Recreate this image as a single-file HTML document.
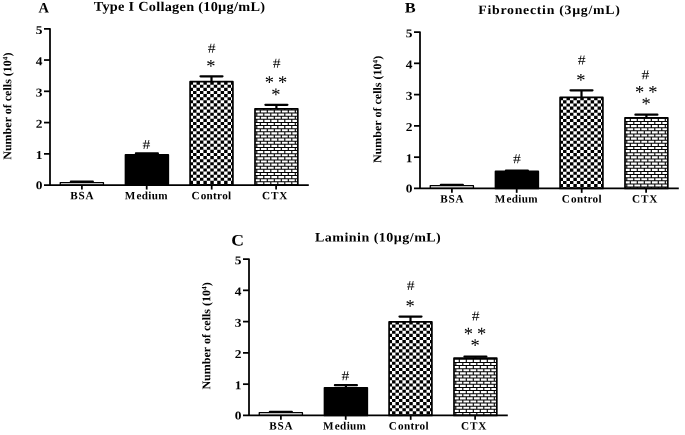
<!DOCTYPE html>
<html><head><meta charset="utf-8"><title>Figure</title>
<style>
html,body{margin:0;padding:0;background:#fff;}
svg{display:block;}
text{font-family:"Liberation Serif","DejaVu Serif",serif;fill:#000;}
.b{font-weight:bold;}
.ax{stroke:#000;stroke-width:1.75;fill:none;stroke-linecap:butt;}
.bar{stroke:#000;stroke-width:1.7;stroke-linejoin:round;}
.eb{stroke:#000;fill:none;}
</style></head><body>
<svg width="685" height="435" viewBox="0 0 685 435">
<rect width="685" height="435" fill="#fff"/>

<g>
<text class="b" transform="translate(38.60,12.60) rotate(0.03)" font-size="14.5" text-anchor="start">A</text>
<text class="b" transform="translate(93.70,10.85) rotate(0.03) scale(1.06,1)" font-size="13.5" text-anchor="start" textLength="161.60" lengthAdjust="spacing">Type I Collagen (10µg/mL)</text>
<text class="b" font-size="11.7" textLength="107.3" lengthAdjust="spacingAndGlyphs" transform="translate(11.25,159.8) rotate(-90.03)">Number of cells (10<tspan font-size="7" dy="-3.8">4</tspan><tspan dy="3.8">)</tspan></text>
<path class="eb" stroke-width="2.2" d="M81.85 182.6V181.6"/>
<path class="eb" stroke-width="2.2" stroke-linecap="round" d="M70.85 181.6H92.85"/>
<g transform="translate(60.25,182.55)"><rect class="bar" style="stroke-width:1.3" width="43.20" height="2.60" fill="#fff"/></g>
<path class="eb" stroke-width="2.2" d="M146.90 154.4V153.4"/>
<path class="eb" stroke-width="2.2" stroke-linecap="round" d="M135.90 153.4H157.90"/>
<g transform="translate(125.50,154.75)"><rect class="bar" width="42.80" height="30.40" fill="#000"/></g>
<path class="eb" stroke-width="2.2" d="M211.50 81.3V76.3"/>
<path class="eb" stroke-width="2.2" stroke-linecap="round" d="M200.50 76.3H222.50"/>
<g transform="translate(190.10,81.65)"><rect width="42.80" height="103.50" fill="#fff"/><path fill="#000" d="M0 0H2.95V3.1H0ZM6.4 0H9.85V3.1H6.4ZM13.3 0H16.75V3.1H13.3ZM20.2 0H23.65V3.1H20.2ZM27.1 0H30.55V3.1H27.1ZM34 0H37.45V3.1H34ZM40.9 0H42.8V3.1H40.9ZM2.95 3.1H6.4V6.2H2.95ZM9.85 3.1H13.3V6.2H9.85ZM16.75 3.1H20.2V6.2H16.75ZM23.65 3.1H27.1V6.2H23.65ZM30.55 3.1H34V6.2H30.55ZM37.45 3.1H40.9V6.2H37.45ZM0 6.2H2.95V9.3H0ZM6.4 6.2H9.85V9.3H6.4ZM13.3 6.2H16.75V9.3H13.3ZM20.2 6.2H23.65V9.3H20.2ZM27.1 6.2H30.55V9.3H27.1ZM34 6.2H37.45V9.3H34ZM40.9 6.2H42.8V9.3H40.9ZM2.95 9.3H6.4V12.4H2.95ZM9.85 9.3H13.3V12.4H9.85ZM16.75 9.3H20.2V12.4H16.75ZM23.65 9.3H27.1V12.4H23.65ZM30.55 9.3H34V12.4H30.55ZM37.45 9.3H40.9V12.4H37.45ZM0 12.4H2.95V15.5H0ZM6.4 12.4H9.85V15.5H6.4ZM13.3 12.4H16.75V15.5H13.3ZM20.2 12.4H23.65V15.5H20.2ZM27.1 12.4H30.55V15.5H27.1ZM34 12.4H37.45V15.5H34ZM40.9 12.4H42.8V15.5H40.9ZM2.95 15.5H6.4V18.6H2.95ZM9.85 15.5H13.3V18.6H9.85ZM16.75 15.5H20.2V18.6H16.75ZM23.65 15.5H27.1V18.6H23.65ZM30.55 15.5H34V18.6H30.55ZM37.45 15.5H40.9V18.6H37.45ZM0 18.6H2.95V21.7H0ZM6.4 18.6H9.85V21.7H6.4ZM13.3 18.6H16.75V21.7H13.3ZM20.2 18.6H23.65V21.7H20.2ZM27.1 18.6H30.55V21.7H27.1ZM34 18.6H37.45V21.7H34ZM40.9 18.6H42.8V21.7H40.9ZM2.95 21.7H6.4V24.8H2.95ZM9.85 21.7H13.3V24.8H9.85ZM16.75 21.7H20.2V24.8H16.75ZM23.65 21.7H27.1V24.8H23.65ZM30.55 21.7H34V24.8H30.55ZM37.45 21.7H40.9V24.8H37.45ZM0 24.8H2.95V27.9H0ZM6.4 24.8H9.85V27.9H6.4ZM13.3 24.8H16.75V27.9H13.3ZM20.2 24.8H23.65V27.9H20.2ZM27.1 24.8H30.55V27.9H27.1ZM34 24.8H37.45V27.9H34ZM40.9 24.8H42.8V27.9H40.9ZM2.95 27.9H6.4V31H2.95ZM9.85 27.9H13.3V31H9.85ZM16.75 27.9H20.2V31H16.75ZM23.65 27.9H27.1V31H23.65ZM30.55 27.9H34V31H30.55ZM37.45 27.9H40.9V31H37.45ZM0 31H2.95V34.1H0ZM6.4 31H9.85V34.1H6.4ZM13.3 31H16.75V34.1H13.3ZM20.2 31H23.65V34.1H20.2ZM27.1 31H30.55V34.1H27.1ZM34 31H37.45V34.1H34ZM40.9 31H42.8V34.1H40.9ZM2.95 34.1H6.4V37.2H2.95ZM9.85 34.1H13.3V37.2H9.85ZM16.75 34.1H20.2V37.2H16.75ZM23.65 34.1H27.1V37.2H23.65ZM30.55 34.1H34V37.2H30.55ZM37.45 34.1H40.9V37.2H37.45ZM0 37.2H2.95V40.3H0ZM6.4 37.2H9.85V40.3H6.4ZM13.3 37.2H16.75V40.3H13.3ZM20.2 37.2H23.65V40.3H20.2ZM27.1 37.2H30.55V40.3H27.1ZM34 37.2H37.45V40.3H34ZM40.9 37.2H42.8V40.3H40.9ZM2.95 40.3H6.4V43.4H2.95ZM9.85 40.3H13.3V43.4H9.85ZM16.75 40.3H20.2V43.4H16.75ZM23.65 40.3H27.1V43.4H23.65ZM30.55 40.3H34V43.4H30.55ZM37.45 40.3H40.9V43.4H37.45ZM0 43.4H2.95V46.5H0ZM6.4 43.4H9.85V46.5H6.4ZM13.3 43.4H16.75V46.5H13.3ZM20.2 43.4H23.65V46.5H20.2ZM27.1 43.4H30.55V46.5H27.1ZM34 43.4H37.45V46.5H34ZM40.9 43.4H42.8V46.5H40.9ZM2.95 46.5H6.4V49.6H2.95ZM9.85 46.5H13.3V49.6H9.85ZM16.75 46.5H20.2V49.6H16.75ZM23.65 46.5H27.1V49.6H23.65ZM30.55 46.5H34V49.6H30.55ZM37.45 46.5H40.9V49.6H37.45ZM0 49.6H2.95V52.7H0ZM6.4 49.6H9.85V52.7H6.4ZM13.3 49.6H16.75V52.7H13.3ZM20.2 49.6H23.65V52.7H20.2ZM27.1 49.6H30.55V52.7H27.1ZM34 49.6H37.45V52.7H34ZM40.9 49.6H42.8V52.7H40.9ZM2.95 52.7H6.4V55.8H2.95ZM9.85 52.7H13.3V55.8H9.85ZM16.75 52.7H20.2V55.8H16.75ZM23.65 52.7H27.1V55.8H23.65ZM30.55 52.7H34V55.8H30.55ZM37.45 52.7H40.9V55.8H37.45ZM0 55.8H2.95V58.9H0ZM6.4 55.8H9.85V58.9H6.4ZM13.3 55.8H16.75V58.9H13.3ZM20.2 55.8H23.65V58.9H20.2ZM27.1 55.8H30.55V58.9H27.1ZM34 55.8H37.45V58.9H34ZM40.9 55.8H42.8V58.9H40.9ZM2.95 58.9H6.4V62H2.95ZM9.85 58.9H13.3V62H9.85ZM16.75 58.9H20.2V62H16.75ZM23.65 58.9H27.1V62H23.65ZM30.55 58.9H34V62H30.55ZM37.45 58.9H40.9V62H37.45ZM0 62H2.95V65.1H0ZM6.4 62H9.85V65.1H6.4ZM13.3 62H16.75V65.1H13.3ZM20.2 62H23.65V65.1H20.2ZM27.1 62H30.55V65.1H27.1ZM34 62H37.45V65.1H34ZM40.9 62H42.8V65.1H40.9ZM2.95 65.1H6.4V68.2H2.95ZM9.85 65.1H13.3V68.2H9.85ZM16.75 65.1H20.2V68.2H16.75ZM23.65 65.1H27.1V68.2H23.65ZM30.55 65.1H34V68.2H30.55ZM37.45 65.1H40.9V68.2H37.45ZM0 68.2H2.95V71.3H0ZM6.4 68.2H9.85V71.3H6.4ZM13.3 68.2H16.75V71.3H13.3ZM20.2 68.2H23.65V71.3H20.2ZM27.1 68.2H30.55V71.3H27.1ZM34 68.2H37.45V71.3H34ZM40.9 68.2H42.8V71.3H40.9ZM2.95 71.3H6.4V74.4H2.95ZM9.85 71.3H13.3V74.4H9.85ZM16.75 71.3H20.2V74.4H16.75ZM23.65 71.3H27.1V74.4H23.65ZM30.55 71.3H34V74.4H30.55ZM37.45 71.3H40.9V74.4H37.45ZM0 74.4H2.95V77.5H0ZM6.4 74.4H9.85V77.5H6.4ZM13.3 74.4H16.75V77.5H13.3ZM20.2 74.4H23.65V77.5H20.2ZM27.1 74.4H30.55V77.5H27.1ZM34 74.4H37.45V77.5H34ZM40.9 74.4H42.8V77.5H40.9ZM2.95 77.5H6.4V80.6H2.95ZM9.85 77.5H13.3V80.6H9.85ZM16.75 77.5H20.2V80.6H16.75ZM23.65 77.5H27.1V80.6H23.65ZM30.55 77.5H34V80.6H30.55ZM37.45 77.5H40.9V80.6H37.45ZM0 80.6H2.95V83.7H0ZM6.4 80.6H9.85V83.7H6.4ZM13.3 80.6H16.75V83.7H13.3ZM20.2 80.6H23.65V83.7H20.2ZM27.1 80.6H30.55V83.7H27.1ZM34 80.6H37.45V83.7H34ZM40.9 80.6H42.8V83.7H40.9ZM2.95 83.7H6.4V86.8H2.95ZM9.85 83.7H13.3V86.8H9.85ZM16.75 83.7H20.2V86.8H16.75ZM23.65 83.7H27.1V86.8H23.65ZM30.55 83.7H34V86.8H30.55ZM37.45 83.7H40.9V86.8H37.45ZM0 86.8H2.95V89.9H0ZM6.4 86.8H9.85V89.9H6.4ZM13.3 86.8H16.75V89.9H13.3ZM20.2 86.8H23.65V89.9H20.2ZM27.1 86.8H30.55V89.9H27.1ZM34 86.8H37.45V89.9H34ZM40.9 86.8H42.8V89.9H40.9ZM2.95 89.9H6.4V93H2.95ZM9.85 89.9H13.3V93H9.85ZM16.75 89.9H20.2V93H16.75ZM23.65 89.9H27.1V93H23.65ZM30.55 89.9H34V93H30.55ZM37.45 89.9H40.9V93H37.45ZM0 93H2.95V96.1H0ZM6.4 93H9.85V96.1H6.4ZM13.3 93H16.75V96.1H13.3ZM20.2 93H23.65V96.1H20.2ZM27.1 93H30.55V96.1H27.1ZM34 93H37.45V96.1H34ZM40.9 93H42.8V96.1H40.9ZM2.95 96.1H6.4V99.2H2.95ZM9.85 96.1H13.3V99.2H9.85ZM16.75 96.1H20.2V99.2H16.75ZM23.65 96.1H27.1V99.2H23.65ZM30.55 96.1H34V99.2H30.55ZM37.45 96.1H40.9V99.2H37.45ZM0 99.2H2.95V102.3H0ZM6.4 99.2H9.85V102.3H6.4ZM13.3 99.2H16.75V102.3H13.3ZM20.2 99.2H23.65V102.3H20.2ZM27.1 99.2H30.55V102.3H27.1ZM34 99.2H37.45V102.3H34ZM40.9 99.2H42.8V102.3H40.9ZM2.95 102.3H6.4V103.5H2.95ZM9.85 102.3H13.3V103.5H9.85ZM16.75 102.3H20.2V103.5H16.75ZM23.65 102.3H27.1V103.5H23.65ZM30.55 102.3H34V103.5H30.55ZM37.45 102.3H40.9V103.5H37.45Z"/><rect class="bar" width="42.80" height="103.50" fill="none"/></g>
<path class="eb" stroke-width="2.2" d="M276.40 108.5V104.8"/>
<path class="eb" stroke-width="2.2" stroke-linecap="round" d="M265.40 104.8H287.40"/>
<g transform="translate(255.00,108.85)"><rect width="42.80" height="76.30" fill="#fff"/><path fill="#000" d="M1.25 0H2.35V0.55H1.25ZM8.25 0H9.35V0.55H8.25ZM15.25 0H16.35V0.55H15.25ZM22.25 0H23.35V0.55H22.25ZM29.25 0H30.35V0.55H29.25ZM36.25 0H37.35V0.55H36.25ZM0 0.55H42.8V1.55H0ZM4.75 0.55H5.85V3.67H4.75ZM11.75 0.55H12.85V3.67H11.75ZM18.75 0.55H19.85V3.67H18.75ZM25.75 0.55H26.85V3.67H25.75ZM32.75 0.55H33.85V3.67H32.75ZM39.75 0.55H40.85V3.67H39.75ZM0 3.67H42.8V4.67H0ZM1.25 3.67H2.35V6.8H1.25ZM8.25 3.67H9.35V6.8H8.25ZM15.25 3.67H16.35V6.8H15.25ZM22.25 3.67H23.35V6.8H22.25ZM29.25 3.67H30.35V6.8H29.25ZM36.25 3.67H37.35V6.8H36.25ZM0 6.8H42.8V7.8H0ZM4.75 6.8H5.85V9.93H4.75ZM11.75 6.8H12.85V9.93H11.75ZM18.75 6.8H19.85V9.93H18.75ZM25.75 6.8H26.85V9.93H25.75ZM32.75 6.8H33.85V9.93H32.75ZM39.75 6.8H40.85V9.93H39.75ZM0 9.93H42.8V10.93H0ZM1.25 9.93H2.35V13.05H1.25ZM8.25 9.93H9.35V13.05H8.25ZM15.25 9.93H16.35V13.05H15.25ZM22.25 9.93H23.35V13.05H22.25ZM29.25 9.93H30.35V13.05H29.25ZM36.25 9.93H37.35V13.05H36.25ZM0 13.05H42.8V14.05H0ZM4.75 13.05H5.85V16.18H4.75ZM11.75 13.05H12.85V16.18H11.75ZM18.75 13.05H19.85V16.18H18.75ZM25.75 13.05H26.85V16.18H25.75ZM32.75 13.05H33.85V16.18H32.75ZM39.75 13.05H40.85V16.18H39.75ZM0 16.18H42.8V17.18H0ZM1.25 16.18H2.35V19.3H1.25ZM8.25 16.18H9.35V19.3H8.25ZM15.25 16.18H16.35V19.3H15.25ZM22.25 16.18H23.35V19.3H22.25ZM29.25 16.18H30.35V19.3H29.25ZM36.25 16.18H37.35V19.3H36.25ZM0 19.3H42.8V20.3H0ZM4.75 19.3H5.85V22.43H4.75ZM11.75 19.3H12.85V22.43H11.75ZM18.75 19.3H19.85V22.43H18.75ZM25.75 19.3H26.85V22.43H25.75ZM32.75 19.3H33.85V22.43H32.75ZM39.75 19.3H40.85V22.43H39.75ZM0 22.43H42.8V23.43H0ZM1.25 22.43H2.35V25.55H1.25ZM8.25 22.43H9.35V25.55H8.25ZM15.25 22.43H16.35V25.55H15.25ZM22.25 22.43H23.35V25.55H22.25ZM29.25 22.43H30.35V25.55H29.25ZM36.25 22.43H37.35V25.55H36.25ZM0 25.55H42.8V26.55H0ZM4.75 25.55H5.85V28.68H4.75ZM11.75 25.55H12.85V28.68H11.75ZM18.75 25.55H19.85V28.68H18.75ZM25.75 25.55H26.85V28.68H25.75ZM32.75 25.55H33.85V28.68H32.75ZM39.75 25.55H40.85V28.68H39.75ZM0 28.68H42.8V29.68H0ZM1.25 28.68H2.35V31.8H1.25ZM8.25 28.68H9.35V31.8H8.25ZM15.25 28.68H16.35V31.8H15.25ZM22.25 28.68H23.35V31.8H22.25ZM29.25 28.68H30.35V31.8H29.25ZM36.25 28.68H37.35V31.8H36.25ZM0 31.8H42.8V32.8H0ZM4.75 31.8H5.85V34.92H4.75ZM11.75 31.8H12.85V34.92H11.75ZM18.75 31.8H19.85V34.92H18.75ZM25.75 31.8H26.85V34.92H25.75ZM32.75 31.8H33.85V34.92H32.75ZM39.75 31.8H40.85V34.92H39.75ZM0 34.92H42.8V35.92H0ZM1.25 34.92H2.35V38.05H1.25ZM8.25 34.92H9.35V38.05H8.25ZM15.25 34.92H16.35V38.05H15.25ZM22.25 34.92H23.35V38.05H22.25ZM29.25 34.92H30.35V38.05H29.25ZM36.25 34.92H37.35V38.05H36.25ZM0 38.05H42.8V39.05H0ZM4.75 38.05H5.85V41.17H4.75ZM11.75 38.05H12.85V41.17H11.75ZM18.75 38.05H19.85V41.17H18.75ZM25.75 38.05H26.85V41.17H25.75ZM32.75 38.05H33.85V41.17H32.75ZM39.75 38.05H40.85V41.17H39.75ZM0 41.17H42.8V42.17H0ZM1.25 41.17H2.35V44.3H1.25ZM8.25 41.17H9.35V44.3H8.25ZM15.25 41.17H16.35V44.3H15.25ZM22.25 41.17H23.35V44.3H22.25ZM29.25 41.17H30.35V44.3H29.25ZM36.25 41.17H37.35V44.3H36.25ZM0 44.3H42.8V45.3H0ZM4.75 44.3H5.85V47.42H4.75ZM11.75 44.3H12.85V47.42H11.75ZM18.75 44.3H19.85V47.42H18.75ZM25.75 44.3H26.85V47.42H25.75ZM32.75 44.3H33.85V47.42H32.75ZM39.75 44.3H40.85V47.42H39.75ZM0 47.42H42.8V48.42H0ZM1.25 47.42H2.35V50.55H1.25ZM8.25 47.42H9.35V50.55H8.25ZM15.25 47.42H16.35V50.55H15.25ZM22.25 47.42H23.35V50.55H22.25ZM29.25 47.42H30.35V50.55H29.25ZM36.25 47.42H37.35V50.55H36.25ZM0 50.55H42.8V51.55H0ZM4.75 50.55H5.85V53.67H4.75ZM11.75 50.55H12.85V53.67H11.75ZM18.75 50.55H19.85V53.67H18.75ZM25.75 50.55H26.85V53.67H25.75ZM32.75 50.55H33.85V53.67H32.75ZM39.75 50.55H40.85V53.67H39.75ZM0 53.67H42.8V54.67H0ZM1.25 53.67H2.35V56.8H1.25ZM8.25 53.67H9.35V56.8H8.25ZM15.25 53.67H16.35V56.8H15.25ZM22.25 53.67H23.35V56.8H22.25ZM29.25 53.67H30.35V56.8H29.25ZM36.25 53.67H37.35V56.8H36.25ZM0 56.8H42.8V57.8H0ZM4.75 56.8H5.85V59.92H4.75ZM11.75 56.8H12.85V59.92H11.75ZM18.75 56.8H19.85V59.92H18.75ZM25.75 56.8H26.85V59.92H25.75ZM32.75 56.8H33.85V59.92H32.75ZM39.75 56.8H40.85V59.92H39.75ZM0 59.92H42.8V60.92H0ZM1.25 59.92H2.35V63.05H1.25ZM8.25 59.92H9.35V63.05H8.25ZM15.25 59.92H16.35V63.05H15.25ZM22.25 59.92H23.35V63.05H22.25ZM29.25 59.92H30.35V63.05H29.25ZM36.25 59.92H37.35V63.05H36.25ZM0 63.05H42.8V64.05H0ZM4.75 63.05H5.85V66.17H4.75ZM11.75 63.05H12.85V66.17H11.75ZM18.75 63.05H19.85V66.17H18.75ZM25.75 63.05H26.85V66.17H25.75ZM32.75 63.05H33.85V66.17H32.75ZM39.75 63.05H40.85V66.17H39.75ZM0 66.17H42.8V67.17H0ZM1.25 66.17H2.35V69.3H1.25ZM8.25 66.17H9.35V69.3H8.25ZM15.25 66.17H16.35V69.3H15.25ZM22.25 66.17H23.35V69.3H22.25ZM29.25 66.17H30.35V69.3H29.25ZM36.25 66.17H37.35V69.3H36.25ZM0 69.3H42.8V70.3H0ZM4.75 69.3H5.85V72.42H4.75ZM11.75 69.3H12.85V72.42H11.75ZM18.75 69.3H19.85V72.42H18.75ZM25.75 69.3H26.85V72.42H25.75ZM32.75 69.3H33.85V72.42H32.75ZM39.75 69.3H40.85V72.42H39.75ZM0 72.42H42.8V73.42H0ZM1.25 72.42H2.35V75.55H1.25ZM8.25 72.42H9.35V75.55H8.25ZM15.25 72.42H16.35V75.55H15.25ZM22.25 72.42H23.35V75.55H22.25ZM29.25 72.42H30.35V75.55H29.25ZM36.25 72.42H37.35V75.55H36.25ZM0 75.55H42.8V76.3H0ZM4.75 75.55H5.85V76.3H4.75ZM11.75 75.55H12.85V76.3H11.75ZM18.75 75.55H19.85V76.3H18.75ZM25.75 75.55H26.85V76.3H25.75ZM32.75 75.55H33.85V76.3H32.75ZM39.75 75.55H40.85V76.3H39.75Z"/><rect class="bar" width="42.80" height="76.30" fill="none"/></g>
<text transform="translate(146.50,149.02) rotate(0.03) scale(1.15,1)" font-size="13.6" text-anchor="middle">#</text>
<text transform="translate(210.90,72.05) rotate(0.03)" font-size="18.5" text-anchor="middle">*</text>
<text transform="translate(211.70,52.82) rotate(0.03) scale(1.15,1)" font-size="13.6" text-anchor="middle">#</text>
<text transform="translate(275.90,100.40) rotate(0.03)" font-size="18.5" text-anchor="middle">*</text>
<text transform="translate(269.35,88.35) rotate(0.03)" font-size="18.5" text-anchor="middle">*</text>
<text transform="translate(282.60,88.35) rotate(0.03)" font-size="18.5" text-anchor="middle">*</text>
<text transform="translate(276.65,67.67) rotate(0.03) scale(1.15,1)" font-size="13.6" text-anchor="middle">#</text>
<path class="ax" stroke-linejoin="round" d="M44 28.75H50V185.15"/>
<path class="ax" d="M44 185.15H308.8"/>
<text class="b" transform="translate(42.50,189.25) rotate(0.03) scale(1.12,1)" font-size="12" text-anchor="end">0</text>
<path class="ax" d="M44 153.87H50"/>
<text class="b" transform="translate(42.50,159.07) rotate(0.03) scale(1.12,1)" font-size="12" text-anchor="end">1</text>
<path class="ax" d="M44 122.59H50"/>
<text class="b" transform="translate(42.50,127.79) rotate(0.03) scale(1.12,1)" font-size="12" text-anchor="end">2</text>
<path class="ax" d="M44 91.31H50"/>
<text class="b" transform="translate(42.50,96.51) rotate(0.03) scale(1.12,1)" font-size="12" text-anchor="end">3</text>
<path class="ax" d="M44 60.03H50"/>
<text class="b" transform="translate(42.50,65.23) rotate(0.03) scale(1.12,1)" font-size="12" text-anchor="end">4</text>
<text class="b" transform="translate(42.50,33.95) rotate(0.03) scale(1.12,1)" font-size="12" text-anchor="end">5</text>
<path class="ax" d="M81.90 185.15V189.55"/>
<text class="b" transform="translate(70.30,199.30) rotate(0.03)" font-size="11.2" text-anchor="start" letter-spacing="0.7">B<tspan dx="0">SA</tspan></text>
<path class="ax" d="M146.70 185.15V189.55"/>
<text class="b" transform="translate(124.70,199.30) rotate(0.03)" font-size="11.2" text-anchor="start" letter-spacing="0.3">M<tspan dx="0.9">edium</tspan></text>
<path class="ax" d="M211.70 185.15V189.55"/>
<text class="b" transform="translate(191.40,199.30) rotate(0.03)" font-size="11.2" text-anchor="start" letter-spacing="0.3">C<tspan dx="0.9">ontrol</tspan></text>
<path class="ax" d="M276.10 185.15V189.55"/>
<text class="b" transform="translate(262.00,199.30) rotate(0.03)" font-size="11.2" text-anchor="start" letter-spacing="0.8">C<tspan dx="0">TX</tspan></text>
</g>
<g>
<text class="b" transform="translate(404.80,12.50) rotate(0.03) scale(1.13,1)" font-size="14.5" text-anchor="start">B</text>
<text class="b" transform="translate(478.30,13.90) rotate(0.03) scale(1.08,1)" font-size="12.8" text-anchor="start" textLength="131.02" lengthAdjust="spacing">Fibronectin (3µg/mL)</text>
<text class="b" font-size="11.7" textLength="107.3" lengthAdjust="spacingAndGlyphs" transform="translate(381.25,163.1) rotate(-90.03)">Number of cells (10<tspan font-size="7" dy="-3.8">4</tspan><tspan dy="3.8">)</tspan></text>
<path class="eb" stroke-width="2.2" d="M451.85 185.7V184.8"/>
<path class="eb" stroke-width="2.2" stroke-linecap="round" d="M440.85 184.8H462.85"/>
<g transform="translate(430.25,185.70)"><rect class="bar" style="stroke-width:1.3" width="43.20" height="2.75" fill="#fff"/></g>
<path class="eb" stroke-width="2.2" d="M516.90 171.1V170.7"/>
<path class="eb" stroke-width="2.2" stroke-linecap="round" d="M505.90 170.7H527.90"/>
<g transform="translate(495.50,171.45)"><rect class="bar" width="42.80" height="17.00" fill="#000"/></g>
<path class="eb" stroke-width="2.2" d="M581.50 97.1V90.3"/>
<path class="eb" stroke-width="2.2" stroke-linecap="round" d="M570.50 90.3H592.50"/>
<g transform="translate(560.10,97.45)"><rect width="42.80" height="91.00" fill="#fff"/><path fill="#000" d="M0 0H2.95V2.9H0ZM6.4 0H9.85V2.9H6.4ZM13.3 0H16.75V2.9H13.3ZM20.2 0H23.65V2.9H20.2ZM27.1 0H30.55V2.9H27.1ZM34 0H37.45V2.9H34ZM40.9 0H42.8V2.9H40.9ZM2.95 2.9H6.4V6H2.95ZM9.85 2.9H13.3V6H9.85ZM16.75 2.9H20.2V6H16.75ZM23.65 2.9H27.1V6H23.65ZM30.55 2.9H34V6H30.55ZM37.45 2.9H40.9V6H37.45ZM0 6H2.95V9.1H0ZM6.4 6H9.85V9.1H6.4ZM13.3 6H16.75V9.1H13.3ZM20.2 6H23.65V9.1H20.2ZM27.1 6H30.55V9.1H27.1ZM34 6H37.45V9.1H34ZM40.9 6H42.8V9.1H40.9ZM2.95 9.1H6.4V12.2H2.95ZM9.85 9.1H13.3V12.2H9.85ZM16.75 9.1H20.2V12.2H16.75ZM23.65 9.1H27.1V12.2H23.65ZM30.55 9.1H34V12.2H30.55ZM37.45 9.1H40.9V12.2H37.45ZM0 12.2H2.95V15.3H0ZM6.4 12.2H9.85V15.3H6.4ZM13.3 12.2H16.75V15.3H13.3ZM20.2 12.2H23.65V15.3H20.2ZM27.1 12.2H30.55V15.3H27.1ZM34 12.2H37.45V15.3H34ZM40.9 12.2H42.8V15.3H40.9ZM2.95 15.3H6.4V18.4H2.95ZM9.85 15.3H13.3V18.4H9.85ZM16.75 15.3H20.2V18.4H16.75ZM23.65 15.3H27.1V18.4H23.65ZM30.55 15.3H34V18.4H30.55ZM37.45 15.3H40.9V18.4H37.45ZM0 18.4H2.95V21.5H0ZM6.4 18.4H9.85V21.5H6.4ZM13.3 18.4H16.75V21.5H13.3ZM20.2 18.4H23.65V21.5H20.2ZM27.1 18.4H30.55V21.5H27.1ZM34 18.4H37.45V21.5H34ZM40.9 18.4H42.8V21.5H40.9ZM2.95 21.5H6.4V24.6H2.95ZM9.85 21.5H13.3V24.6H9.85ZM16.75 21.5H20.2V24.6H16.75ZM23.65 21.5H27.1V24.6H23.65ZM30.55 21.5H34V24.6H30.55ZM37.45 21.5H40.9V24.6H37.45ZM0 24.6H2.95V27.7H0ZM6.4 24.6H9.85V27.7H6.4ZM13.3 24.6H16.75V27.7H13.3ZM20.2 24.6H23.65V27.7H20.2ZM27.1 24.6H30.55V27.7H27.1ZM34 24.6H37.45V27.7H34ZM40.9 24.6H42.8V27.7H40.9ZM2.95 27.7H6.4V30.8H2.95ZM9.85 27.7H13.3V30.8H9.85ZM16.75 27.7H20.2V30.8H16.75ZM23.65 27.7H27.1V30.8H23.65ZM30.55 27.7H34V30.8H30.55ZM37.45 27.7H40.9V30.8H37.45ZM0 30.8H2.95V33.9H0ZM6.4 30.8H9.85V33.9H6.4ZM13.3 30.8H16.75V33.9H13.3ZM20.2 30.8H23.65V33.9H20.2ZM27.1 30.8H30.55V33.9H27.1ZM34 30.8H37.45V33.9H34ZM40.9 30.8H42.8V33.9H40.9ZM2.95 33.9H6.4V37H2.95ZM9.85 33.9H13.3V37H9.85ZM16.75 33.9H20.2V37H16.75ZM23.65 33.9H27.1V37H23.65ZM30.55 33.9H34V37H30.55ZM37.45 33.9H40.9V37H37.45ZM0 37H2.95V40.1H0ZM6.4 37H9.85V40.1H6.4ZM13.3 37H16.75V40.1H13.3ZM20.2 37H23.65V40.1H20.2ZM27.1 37H30.55V40.1H27.1ZM34 37H37.45V40.1H34ZM40.9 37H42.8V40.1H40.9ZM2.95 40.1H6.4V43.2H2.95ZM9.85 40.1H13.3V43.2H9.85ZM16.75 40.1H20.2V43.2H16.75ZM23.65 40.1H27.1V43.2H23.65ZM30.55 40.1H34V43.2H30.55ZM37.45 40.1H40.9V43.2H37.45ZM0 43.2H2.95V46.3H0ZM6.4 43.2H9.85V46.3H6.4ZM13.3 43.2H16.75V46.3H13.3ZM20.2 43.2H23.65V46.3H20.2ZM27.1 43.2H30.55V46.3H27.1ZM34 43.2H37.45V46.3H34ZM40.9 43.2H42.8V46.3H40.9ZM2.95 46.3H6.4V49.4H2.95ZM9.85 46.3H13.3V49.4H9.85ZM16.75 46.3H20.2V49.4H16.75ZM23.65 46.3H27.1V49.4H23.65ZM30.55 46.3H34V49.4H30.55ZM37.45 46.3H40.9V49.4H37.45ZM0 49.4H2.95V52.5H0ZM6.4 49.4H9.85V52.5H6.4ZM13.3 49.4H16.75V52.5H13.3ZM20.2 49.4H23.65V52.5H20.2ZM27.1 49.4H30.55V52.5H27.1ZM34 49.4H37.45V52.5H34ZM40.9 49.4H42.8V52.5H40.9ZM2.95 52.5H6.4V55.6H2.95ZM9.85 52.5H13.3V55.6H9.85ZM16.75 52.5H20.2V55.6H16.75ZM23.65 52.5H27.1V55.6H23.65ZM30.55 52.5H34V55.6H30.55ZM37.45 52.5H40.9V55.6H37.45ZM0 55.6H2.95V58.7H0ZM6.4 55.6H9.85V58.7H6.4ZM13.3 55.6H16.75V58.7H13.3ZM20.2 55.6H23.65V58.7H20.2ZM27.1 55.6H30.55V58.7H27.1ZM34 55.6H37.45V58.7H34ZM40.9 55.6H42.8V58.7H40.9ZM2.95 58.7H6.4V61.8H2.95ZM9.85 58.7H13.3V61.8H9.85ZM16.75 58.7H20.2V61.8H16.75ZM23.65 58.7H27.1V61.8H23.65ZM30.55 58.7H34V61.8H30.55ZM37.45 58.7H40.9V61.8H37.45ZM0 61.8H2.95V64.9H0ZM6.4 61.8H9.85V64.9H6.4ZM13.3 61.8H16.75V64.9H13.3ZM20.2 61.8H23.65V64.9H20.2ZM27.1 61.8H30.55V64.9H27.1ZM34 61.8H37.45V64.9H34ZM40.9 61.8H42.8V64.9H40.9ZM2.95 64.9H6.4V68H2.95ZM9.85 64.9H13.3V68H9.85ZM16.75 64.9H20.2V68H16.75ZM23.65 64.9H27.1V68H23.65ZM30.55 64.9H34V68H30.55ZM37.45 64.9H40.9V68H37.45ZM0 68H2.95V71.1H0ZM6.4 68H9.85V71.1H6.4ZM13.3 68H16.75V71.1H13.3ZM20.2 68H23.65V71.1H20.2ZM27.1 68H30.55V71.1H27.1ZM34 68H37.45V71.1H34ZM40.9 68H42.8V71.1H40.9ZM2.95 71.1H6.4V74.2H2.95ZM9.85 71.1H13.3V74.2H9.85ZM16.75 71.1H20.2V74.2H16.75ZM23.65 71.1H27.1V74.2H23.65ZM30.55 71.1H34V74.2H30.55ZM37.45 71.1H40.9V74.2H37.45ZM0 74.2H2.95V77.3H0ZM6.4 74.2H9.85V77.3H6.4ZM13.3 74.2H16.75V77.3H13.3ZM20.2 74.2H23.65V77.3H20.2ZM27.1 74.2H30.55V77.3H27.1ZM34 74.2H37.45V77.3H34ZM40.9 74.2H42.8V77.3H40.9ZM2.95 77.3H6.4V80.4H2.95ZM9.85 77.3H13.3V80.4H9.85ZM16.75 77.3H20.2V80.4H16.75ZM23.65 77.3H27.1V80.4H23.65ZM30.55 77.3H34V80.4H30.55ZM37.45 77.3H40.9V80.4H37.45ZM0 80.4H2.95V83.5H0ZM6.4 80.4H9.85V83.5H6.4ZM13.3 80.4H16.75V83.5H13.3ZM20.2 80.4H23.65V83.5H20.2ZM27.1 80.4H30.55V83.5H27.1ZM34 80.4H37.45V83.5H34ZM40.9 80.4H42.8V83.5H40.9ZM2.95 83.5H6.4V86.6H2.95ZM9.85 83.5H13.3V86.6H9.85ZM16.75 83.5H20.2V86.6H16.75ZM23.65 83.5H27.1V86.6H23.65ZM30.55 83.5H34V86.6H30.55ZM37.45 83.5H40.9V86.6H37.45ZM0 86.6H2.95V89.7H0ZM6.4 86.6H9.85V89.7H6.4ZM13.3 86.6H16.75V89.7H13.3ZM20.2 86.6H23.65V89.7H20.2ZM27.1 86.6H30.55V89.7H27.1ZM34 86.6H37.45V89.7H34ZM40.9 86.6H42.8V89.7H40.9ZM2.95 89.7H6.4V91H2.95ZM9.85 89.7H13.3V91H9.85ZM16.75 89.7H20.2V91H16.75ZM23.65 89.7H27.1V91H23.65ZM30.55 89.7H34V91H30.55ZM37.45 89.7H40.9V91H37.45Z"/><rect class="bar" width="42.80" height="91.00" fill="none"/></g>
<path class="eb" stroke-width="2.2" d="M646.40 117.5V114.7"/>
<path class="eb" stroke-width="2.2" stroke-linecap="round" d="M635.40 114.7H657.40"/>
<g transform="translate(625.00,117.85)"><rect width="42.80" height="70.60" fill="#fff"/><path fill="#000" d="M0 0H42.8V1H0ZM4.75 0H5.85V3.12H4.75ZM11.75 0H12.85V3.12H11.75ZM18.75 0H19.85V3.12H18.75ZM25.75 0H26.85V3.12H25.75ZM32.75 0H33.85V3.12H32.75ZM39.75 0H40.85V3.12H39.75ZM0 3.12H42.8V4.12H0ZM1.25 3.12H2.35V6.25H1.25ZM8.25 3.12H9.35V6.25H8.25ZM15.25 3.12H16.35V6.25H15.25ZM22.25 3.12H23.35V6.25H22.25ZM29.25 3.12H30.35V6.25H29.25ZM36.25 3.12H37.35V6.25H36.25ZM0 6.25H42.8V7.25H0ZM4.75 6.25H5.85V9.38H4.75ZM11.75 6.25H12.85V9.38H11.75ZM18.75 6.25H19.85V9.38H18.75ZM25.75 6.25H26.85V9.38H25.75ZM32.75 6.25H33.85V9.38H32.75ZM39.75 6.25H40.85V9.38H39.75ZM0 9.38H42.8V10.38H0ZM1.25 9.38H2.35V12.5H1.25ZM8.25 9.38H9.35V12.5H8.25ZM15.25 9.38H16.35V12.5H15.25ZM22.25 9.38H23.35V12.5H22.25ZM29.25 9.38H30.35V12.5H29.25ZM36.25 9.38H37.35V12.5H36.25ZM0 12.5H42.8V13.5H0ZM4.75 12.5H5.85V15.62H4.75ZM11.75 12.5H12.85V15.62H11.75ZM18.75 12.5H19.85V15.62H18.75ZM25.75 12.5H26.85V15.62H25.75ZM32.75 12.5H33.85V15.62H32.75ZM39.75 12.5H40.85V15.62H39.75ZM0 15.62H42.8V16.62H0ZM1.25 15.62H2.35V18.75H1.25ZM8.25 15.62H9.35V18.75H8.25ZM15.25 15.62H16.35V18.75H15.25ZM22.25 15.62H23.35V18.75H22.25ZM29.25 15.62H30.35V18.75H29.25ZM36.25 15.62H37.35V18.75H36.25ZM0 18.75H42.8V19.75H0ZM4.75 18.75H5.85V21.88H4.75ZM11.75 18.75H12.85V21.88H11.75ZM18.75 18.75H19.85V21.88H18.75ZM25.75 18.75H26.85V21.88H25.75ZM32.75 18.75H33.85V21.88H32.75ZM39.75 18.75H40.85V21.88H39.75ZM0 21.88H42.8V22.88H0ZM1.25 21.88H2.35V25H1.25ZM8.25 21.88H9.35V25H8.25ZM15.25 21.88H16.35V25H15.25ZM22.25 21.88H23.35V25H22.25ZM29.25 21.88H30.35V25H29.25ZM36.25 21.88H37.35V25H36.25ZM0 25H42.8V26H0ZM4.75 25H5.85V28.12H4.75ZM11.75 25H12.85V28.12H11.75ZM18.75 25H19.85V28.12H18.75ZM25.75 25H26.85V28.12H25.75ZM32.75 25H33.85V28.12H32.75ZM39.75 25H40.85V28.12H39.75ZM0 28.12H42.8V29.12H0ZM1.25 28.12H2.35V31.25H1.25ZM8.25 28.12H9.35V31.25H8.25ZM15.25 28.12H16.35V31.25H15.25ZM22.25 28.12H23.35V31.25H22.25ZM29.25 28.12H30.35V31.25H29.25ZM36.25 28.12H37.35V31.25H36.25ZM0 31.25H42.8V32.25H0ZM4.75 31.25H5.85V34.38H4.75ZM11.75 31.25H12.85V34.38H11.75ZM18.75 31.25H19.85V34.38H18.75ZM25.75 31.25H26.85V34.38H25.75ZM32.75 31.25H33.85V34.38H32.75ZM39.75 31.25H40.85V34.38H39.75ZM0 34.38H42.8V35.38H0ZM1.25 34.38H2.35V37.5H1.25ZM8.25 34.38H9.35V37.5H8.25ZM15.25 34.38H16.35V37.5H15.25ZM22.25 34.38H23.35V37.5H22.25ZM29.25 34.38H30.35V37.5H29.25ZM36.25 34.38H37.35V37.5H36.25ZM0 37.5H42.8V38.5H0ZM4.75 37.5H5.85V40.62H4.75ZM11.75 37.5H12.85V40.62H11.75ZM18.75 37.5H19.85V40.62H18.75ZM25.75 37.5H26.85V40.62H25.75ZM32.75 37.5H33.85V40.62H32.75ZM39.75 37.5H40.85V40.62H39.75ZM0 40.62H42.8V41.62H0ZM1.25 40.62H2.35V43.75H1.25ZM8.25 40.62H9.35V43.75H8.25ZM15.25 40.62H16.35V43.75H15.25ZM22.25 40.62H23.35V43.75H22.25ZM29.25 40.62H30.35V43.75H29.25ZM36.25 40.62H37.35V43.75H36.25ZM0 43.75H42.8V44.75H0ZM4.75 43.75H5.85V46.88H4.75ZM11.75 43.75H12.85V46.88H11.75ZM18.75 43.75H19.85V46.88H18.75ZM25.75 43.75H26.85V46.88H25.75ZM32.75 43.75H33.85V46.88H32.75ZM39.75 43.75H40.85V46.88H39.75ZM0 46.88H42.8V47.88H0ZM1.25 46.88H2.35V50H1.25ZM8.25 46.88H9.35V50H8.25ZM15.25 46.88H16.35V50H15.25ZM22.25 46.88H23.35V50H22.25ZM29.25 46.88H30.35V50H29.25ZM36.25 46.88H37.35V50H36.25ZM0 50H42.8V51H0ZM4.75 50H5.85V53.12H4.75ZM11.75 50H12.85V53.12H11.75ZM18.75 50H19.85V53.12H18.75ZM25.75 50H26.85V53.12H25.75ZM32.75 50H33.85V53.12H32.75ZM39.75 50H40.85V53.12H39.75ZM0 53.12H42.8V54.12H0ZM1.25 53.12H2.35V56.25H1.25ZM8.25 53.12H9.35V56.25H8.25ZM15.25 53.12H16.35V56.25H15.25ZM22.25 53.12H23.35V56.25H22.25ZM29.25 53.12H30.35V56.25H29.25ZM36.25 53.12H37.35V56.25H36.25ZM0 56.25H42.8V57.25H0ZM4.75 56.25H5.85V59.38H4.75ZM11.75 56.25H12.85V59.38H11.75ZM18.75 56.25H19.85V59.38H18.75ZM25.75 56.25H26.85V59.38H25.75ZM32.75 56.25H33.85V59.38H32.75ZM39.75 56.25H40.85V59.38H39.75ZM0 59.38H42.8V60.38H0ZM1.25 59.38H2.35V62.5H1.25ZM8.25 59.38H9.35V62.5H8.25ZM15.25 59.38H16.35V62.5H15.25ZM22.25 59.38H23.35V62.5H22.25ZM29.25 59.38H30.35V62.5H29.25ZM36.25 59.38H37.35V62.5H36.25ZM0 62.5H42.8V63.5H0ZM4.75 62.5H5.85V65.62H4.75ZM11.75 62.5H12.85V65.62H11.75ZM18.75 62.5H19.85V65.62H18.75ZM25.75 62.5H26.85V65.62H25.75ZM32.75 62.5H33.85V65.62H32.75ZM39.75 62.5H40.85V65.62H39.75ZM0 65.62H42.8V66.62H0ZM1.25 65.62H2.35V68.75H1.25ZM8.25 65.62H9.35V68.75H8.25ZM15.25 65.62H16.35V68.75H15.25ZM22.25 65.62H23.35V68.75H22.25ZM29.25 65.62H30.35V68.75H29.25ZM36.25 65.62H37.35V68.75H36.25ZM0 68.75H42.8V69.75H0ZM4.75 68.75H5.85V70.6H4.75ZM11.75 68.75H12.85V70.6H11.75ZM18.75 68.75H19.85V70.6H18.75ZM25.75 68.75H26.85V70.6H25.75ZM32.75 68.75H33.85V70.6H32.75ZM39.75 68.75H40.85V70.6H39.75Z"/><rect class="bar" width="42.80" height="70.60" fill="none"/></g>
<text transform="translate(516.80,163.22) rotate(0.03) scale(1.15,1)" font-size="13.6" text-anchor="middle">#</text>
<text transform="translate(580.90,85.90) rotate(0.03)" font-size="18.5" text-anchor="middle">*</text>
<text transform="translate(581.70,64.52) rotate(0.03) scale(1.15,1)" font-size="13.6" text-anchor="middle">#</text>
<text transform="translate(646.00,109.80) rotate(0.03)" font-size="18.5" text-anchor="middle">*</text>
<text transform="translate(639.60,98.00) rotate(0.03)" font-size="18.5" text-anchor="middle">*</text>
<text transform="translate(652.80,98.00) rotate(0.03)" font-size="18.5" text-anchor="middle">*</text>
<text transform="translate(645.30,79.22) rotate(0.03) scale(1.15,1)" font-size="13.6" text-anchor="middle">#</text>
<path class="ax" stroke-linejoin="round" d="M414 32.05H420V188.45"/>
<path class="ax" d="M414 188.45H678.8"/>
<text class="b" transform="translate(412.50,192.55) rotate(0.03) scale(1.12,1)" font-size="12" text-anchor="end">0</text>
<path class="ax" d="M414 157.17H420"/>
<text class="b" transform="translate(412.50,162.37) rotate(0.03) scale(1.12,1)" font-size="12" text-anchor="end">1</text>
<path class="ax" d="M414 125.89H420"/>
<text class="b" transform="translate(412.50,131.09) rotate(0.03) scale(1.12,1)" font-size="12" text-anchor="end">2</text>
<path class="ax" d="M414 94.61H420"/>
<text class="b" transform="translate(412.50,99.81) rotate(0.03) scale(1.12,1)" font-size="12" text-anchor="end">3</text>
<path class="ax" d="M414 63.33H420"/>
<text class="b" transform="translate(412.50,68.53) rotate(0.03) scale(1.12,1)" font-size="12" text-anchor="end">4</text>
<text class="b" transform="translate(412.50,37.25) rotate(0.03) scale(1.12,1)" font-size="12" text-anchor="end">5</text>
<path class="ax" d="M451.90 188.45V192.85"/>
<text class="b" transform="translate(440.30,202.60) rotate(0.03)" font-size="11.2" text-anchor="start" letter-spacing="0.7">B<tspan dx="0">SA</tspan></text>
<path class="ax" d="M516.70 188.45V192.85"/>
<text class="b" transform="translate(494.70,202.60) rotate(0.03)" font-size="11.2" text-anchor="start" letter-spacing="0.3">M<tspan dx="0.9">edium</tspan></text>
<path class="ax" d="M581.70 188.45V192.85"/>
<text class="b" transform="translate(561.80,202.60) rotate(0.03)" font-size="11.2" text-anchor="start" letter-spacing="0.3">C<tspan dx="0.9">ontrol</tspan></text>
<path class="ax" d="M646.10 188.45V192.85"/>
<text class="b" transform="translate(632.00,202.60) rotate(0.03)" font-size="11.2" text-anchor="start" letter-spacing="0.8">C<tspan dx="0">TX</tspan></text>
</g>
<g>
<text class="b" transform="translate(231.20,245.40) rotate(0.03) scale(1.1,1)" font-size="16" text-anchor="start">C</text>
<text class="b" transform="translate(315.00,241.50) rotate(0.03) scale(1.08,1)" font-size="13" text-anchor="start" textLength="116.48" lengthAdjust="spacing">Laminin (10µg/mL)</text>
<text class="b" font-size="11.7" textLength="107.3" lengthAdjust="spacingAndGlyphs" transform="translate(210.25,389.6) rotate(-90.03)">Number of cells (10<tspan font-size="7" dy="-3.8">4</tspan><tspan dy="3.8">)</tspan></text>
<path class="eb" stroke-width="2.2" d="M280.85 412.7V411.9"/>
<path class="eb" stroke-width="2.2" stroke-linecap="round" d="M269.85 411.9H291.85"/>
<g transform="translate(259.25,412.70)"><rect class="bar" style="stroke-width:1.3" width="43.20" height="2.75" fill="#fff"/></g>
<path class="eb" stroke-width="2.2" d="M345.90 387.4V385.2"/>
<path class="eb" stroke-width="2.2" stroke-linecap="round" d="M334.90 385.2H356.90"/>
<g transform="translate(324.50,387.75)"><rect class="bar" width="42.80" height="27.70" fill="#000"/></g>
<path class="eb" stroke-width="2.2" d="M410.50 321.6V316.6"/>
<path class="eb" stroke-width="2.2" stroke-linecap="round" d="M399.50 316.6H421.50"/>
<g transform="translate(389.10,321.95)"><rect width="42.80" height="93.50" fill="#fff"/><path fill="#000" d="M0 0H2.95V2.6H0ZM6.4 0H9.85V2.6H6.4ZM13.3 0H16.75V2.6H13.3ZM20.2 0H23.65V2.6H20.2ZM27.1 0H30.55V2.6H27.1ZM34 0H37.45V2.6H34ZM40.9 0H42.8V2.6H40.9ZM2.95 2.6H6.4V5.7H2.95ZM9.85 2.6H13.3V5.7H9.85ZM16.75 2.6H20.2V5.7H16.75ZM23.65 2.6H27.1V5.7H23.65ZM30.55 2.6H34V5.7H30.55ZM37.45 2.6H40.9V5.7H37.45ZM0 5.7H2.95V8.8H0ZM6.4 5.7H9.85V8.8H6.4ZM13.3 5.7H16.75V8.8H13.3ZM20.2 5.7H23.65V8.8H20.2ZM27.1 5.7H30.55V8.8H27.1ZM34 5.7H37.45V8.8H34ZM40.9 5.7H42.8V8.8H40.9ZM2.95 8.8H6.4V11.9H2.95ZM9.85 8.8H13.3V11.9H9.85ZM16.75 8.8H20.2V11.9H16.75ZM23.65 8.8H27.1V11.9H23.65ZM30.55 8.8H34V11.9H30.55ZM37.45 8.8H40.9V11.9H37.45ZM0 11.9H2.95V15H0ZM6.4 11.9H9.85V15H6.4ZM13.3 11.9H16.75V15H13.3ZM20.2 11.9H23.65V15H20.2ZM27.1 11.9H30.55V15H27.1ZM34 11.9H37.45V15H34ZM40.9 11.9H42.8V15H40.9ZM2.95 15H6.4V18.1H2.95ZM9.85 15H13.3V18.1H9.85ZM16.75 15H20.2V18.1H16.75ZM23.65 15H27.1V18.1H23.65ZM30.55 15H34V18.1H30.55ZM37.45 15H40.9V18.1H37.45ZM0 18.1H2.95V21.2H0ZM6.4 18.1H9.85V21.2H6.4ZM13.3 18.1H16.75V21.2H13.3ZM20.2 18.1H23.65V21.2H20.2ZM27.1 18.1H30.55V21.2H27.1ZM34 18.1H37.45V21.2H34ZM40.9 18.1H42.8V21.2H40.9ZM2.95 21.2H6.4V24.3H2.95ZM9.85 21.2H13.3V24.3H9.85ZM16.75 21.2H20.2V24.3H16.75ZM23.65 21.2H27.1V24.3H23.65ZM30.55 21.2H34V24.3H30.55ZM37.45 21.2H40.9V24.3H37.45ZM0 24.3H2.95V27.4H0ZM6.4 24.3H9.85V27.4H6.4ZM13.3 24.3H16.75V27.4H13.3ZM20.2 24.3H23.65V27.4H20.2ZM27.1 24.3H30.55V27.4H27.1ZM34 24.3H37.45V27.4H34ZM40.9 24.3H42.8V27.4H40.9ZM2.95 27.4H6.4V30.5H2.95ZM9.85 27.4H13.3V30.5H9.85ZM16.75 27.4H20.2V30.5H16.75ZM23.65 27.4H27.1V30.5H23.65ZM30.55 27.4H34V30.5H30.55ZM37.45 27.4H40.9V30.5H37.45ZM0 30.5H2.95V33.6H0ZM6.4 30.5H9.85V33.6H6.4ZM13.3 30.5H16.75V33.6H13.3ZM20.2 30.5H23.65V33.6H20.2ZM27.1 30.5H30.55V33.6H27.1ZM34 30.5H37.45V33.6H34ZM40.9 30.5H42.8V33.6H40.9ZM2.95 33.6H6.4V36.7H2.95ZM9.85 33.6H13.3V36.7H9.85ZM16.75 33.6H20.2V36.7H16.75ZM23.65 33.6H27.1V36.7H23.65ZM30.55 33.6H34V36.7H30.55ZM37.45 33.6H40.9V36.7H37.45ZM0 36.7H2.95V39.8H0ZM6.4 36.7H9.85V39.8H6.4ZM13.3 36.7H16.75V39.8H13.3ZM20.2 36.7H23.65V39.8H20.2ZM27.1 36.7H30.55V39.8H27.1ZM34 36.7H37.45V39.8H34ZM40.9 36.7H42.8V39.8H40.9ZM2.95 39.8H6.4V42.9H2.95ZM9.85 39.8H13.3V42.9H9.85ZM16.75 39.8H20.2V42.9H16.75ZM23.65 39.8H27.1V42.9H23.65ZM30.55 39.8H34V42.9H30.55ZM37.45 39.8H40.9V42.9H37.45ZM0 42.9H2.95V46H0ZM6.4 42.9H9.85V46H6.4ZM13.3 42.9H16.75V46H13.3ZM20.2 42.9H23.65V46H20.2ZM27.1 42.9H30.55V46H27.1ZM34 42.9H37.45V46H34ZM40.9 42.9H42.8V46H40.9ZM2.95 46H6.4V49.1H2.95ZM9.85 46H13.3V49.1H9.85ZM16.75 46H20.2V49.1H16.75ZM23.65 46H27.1V49.1H23.65ZM30.55 46H34V49.1H30.55ZM37.45 46H40.9V49.1H37.45ZM0 49.1H2.95V52.2H0ZM6.4 49.1H9.85V52.2H6.4ZM13.3 49.1H16.75V52.2H13.3ZM20.2 49.1H23.65V52.2H20.2ZM27.1 49.1H30.55V52.2H27.1ZM34 49.1H37.45V52.2H34ZM40.9 49.1H42.8V52.2H40.9ZM2.95 52.2H6.4V55.3H2.95ZM9.85 52.2H13.3V55.3H9.85ZM16.75 52.2H20.2V55.3H16.75ZM23.65 52.2H27.1V55.3H23.65ZM30.55 52.2H34V55.3H30.55ZM37.45 52.2H40.9V55.3H37.45ZM0 55.3H2.95V58.4H0ZM6.4 55.3H9.85V58.4H6.4ZM13.3 55.3H16.75V58.4H13.3ZM20.2 55.3H23.65V58.4H20.2ZM27.1 55.3H30.55V58.4H27.1ZM34 55.3H37.45V58.4H34ZM40.9 55.3H42.8V58.4H40.9ZM2.95 58.4H6.4V61.5H2.95ZM9.85 58.4H13.3V61.5H9.85ZM16.75 58.4H20.2V61.5H16.75ZM23.65 58.4H27.1V61.5H23.65ZM30.55 58.4H34V61.5H30.55ZM37.45 58.4H40.9V61.5H37.45ZM0 61.5H2.95V64.6H0ZM6.4 61.5H9.85V64.6H6.4ZM13.3 61.5H16.75V64.6H13.3ZM20.2 61.5H23.65V64.6H20.2ZM27.1 61.5H30.55V64.6H27.1ZM34 61.5H37.45V64.6H34ZM40.9 61.5H42.8V64.6H40.9ZM2.95 64.6H6.4V67.7H2.95ZM9.85 64.6H13.3V67.7H9.85ZM16.75 64.6H20.2V67.7H16.75ZM23.65 64.6H27.1V67.7H23.65ZM30.55 64.6H34V67.7H30.55ZM37.45 64.6H40.9V67.7H37.45ZM0 67.7H2.95V70.8H0ZM6.4 67.7H9.85V70.8H6.4ZM13.3 67.7H16.75V70.8H13.3ZM20.2 67.7H23.65V70.8H20.2ZM27.1 67.7H30.55V70.8H27.1ZM34 67.7H37.45V70.8H34ZM40.9 67.7H42.8V70.8H40.9ZM2.95 70.8H6.4V73.9H2.95ZM9.85 70.8H13.3V73.9H9.85ZM16.75 70.8H20.2V73.9H16.75ZM23.65 70.8H27.1V73.9H23.65ZM30.55 70.8H34V73.9H30.55ZM37.45 70.8H40.9V73.9H37.45ZM0 73.9H2.95V77H0ZM6.4 73.9H9.85V77H6.4ZM13.3 73.9H16.75V77H13.3ZM20.2 73.9H23.65V77H20.2ZM27.1 73.9H30.55V77H27.1ZM34 73.9H37.45V77H34ZM40.9 73.9H42.8V77H40.9ZM2.95 77H6.4V80.1H2.95ZM9.85 77H13.3V80.1H9.85ZM16.75 77H20.2V80.1H16.75ZM23.65 77H27.1V80.1H23.65ZM30.55 77H34V80.1H30.55ZM37.45 77H40.9V80.1H37.45ZM0 80.1H2.95V83.2H0ZM6.4 80.1H9.85V83.2H6.4ZM13.3 80.1H16.75V83.2H13.3ZM20.2 80.1H23.65V83.2H20.2ZM27.1 80.1H30.55V83.2H27.1ZM34 80.1H37.45V83.2H34ZM40.9 80.1H42.8V83.2H40.9ZM2.95 83.2H6.4V86.3H2.95ZM9.85 83.2H13.3V86.3H9.85ZM16.75 83.2H20.2V86.3H16.75ZM23.65 83.2H27.1V86.3H23.65ZM30.55 83.2H34V86.3H30.55ZM37.45 83.2H40.9V86.3H37.45ZM0 86.3H2.95V89.4H0ZM6.4 86.3H9.85V89.4H6.4ZM13.3 86.3H16.75V89.4H13.3ZM20.2 86.3H23.65V89.4H20.2ZM27.1 86.3H30.55V89.4H27.1ZM34 86.3H37.45V89.4H34ZM40.9 86.3H42.8V89.4H40.9ZM2.95 89.4H6.4V92.5H2.95ZM9.85 89.4H13.3V92.5H9.85ZM16.75 89.4H20.2V92.5H16.75ZM23.65 89.4H27.1V92.5H23.65ZM30.55 89.4H34V92.5H30.55ZM37.45 89.4H40.9V92.5H37.45ZM0 92.5H2.95V93.5H0ZM6.4 92.5H9.85V93.5H6.4ZM13.3 92.5H16.75V93.5H13.3ZM20.2 92.5H23.65V93.5H20.2ZM27.1 92.5H30.55V93.5H27.1ZM34 92.5H37.45V93.5H34ZM40.9 92.5H42.8V93.5H40.9Z"/><rect class="bar" width="42.80" height="93.50" fill="none"/></g>
<path class="eb" stroke-width="2.2" d="M475.40 357.8V356.6"/>
<path class="eb" stroke-width="2.2" stroke-linecap="round" d="M464.40 356.6H486.40"/>
<g transform="translate(454.00,358.15)"><rect width="42.80" height="57.30" fill="#fff"/><path fill="#000" d="M1.25 0H2.35V0.7H1.25ZM8.25 0H9.35V0.7H8.25ZM15.25 0H16.35V0.7H15.25ZM22.25 0H23.35V0.7H22.25ZM29.25 0H30.35V0.7H29.25ZM36.25 0H37.35V0.7H36.25ZM0 0.7H42.8V1.7H0ZM4.75 0.7H5.85V3.83H4.75ZM11.75 0.7H12.85V3.83H11.75ZM18.75 0.7H19.85V3.83H18.75ZM25.75 0.7H26.85V3.83H25.75ZM32.75 0.7H33.85V3.83H32.75ZM39.75 0.7H40.85V3.83H39.75ZM0 3.83H42.8V4.83H0ZM1.25 3.83H2.35V6.95H1.25ZM8.25 3.83H9.35V6.95H8.25ZM15.25 3.83H16.35V6.95H15.25ZM22.25 3.83H23.35V6.95H22.25ZM29.25 3.83H30.35V6.95H29.25ZM36.25 3.83H37.35V6.95H36.25ZM0 6.95H42.8V7.95H0ZM4.75 6.95H5.85V10.07H4.75ZM11.75 6.95H12.85V10.07H11.75ZM18.75 6.95H19.85V10.07H18.75ZM25.75 6.95H26.85V10.07H25.75ZM32.75 6.95H33.85V10.07H32.75ZM39.75 6.95H40.85V10.07H39.75ZM0 10.07H42.8V11.07H0ZM1.25 10.07H2.35V13.2H1.25ZM8.25 10.07H9.35V13.2H8.25ZM15.25 10.07H16.35V13.2H15.25ZM22.25 10.07H23.35V13.2H22.25ZM29.25 10.07H30.35V13.2H29.25ZM36.25 10.07H37.35V13.2H36.25ZM0 13.2H42.8V14.2H0ZM4.75 13.2H5.85V16.32H4.75ZM11.75 13.2H12.85V16.32H11.75ZM18.75 13.2H19.85V16.32H18.75ZM25.75 13.2H26.85V16.32H25.75ZM32.75 13.2H33.85V16.32H32.75ZM39.75 13.2H40.85V16.32H39.75ZM0 16.32H42.8V17.32H0ZM1.25 16.32H2.35V19.45H1.25ZM8.25 16.32H9.35V19.45H8.25ZM15.25 16.32H16.35V19.45H15.25ZM22.25 16.32H23.35V19.45H22.25ZM29.25 16.32H30.35V19.45H29.25ZM36.25 16.32H37.35V19.45H36.25ZM0 19.45H42.8V20.45H0ZM4.75 19.45H5.85V22.57H4.75ZM11.75 19.45H12.85V22.57H11.75ZM18.75 19.45H19.85V22.57H18.75ZM25.75 19.45H26.85V22.57H25.75ZM32.75 19.45H33.85V22.57H32.75ZM39.75 19.45H40.85V22.57H39.75ZM0 22.57H42.8V23.57H0ZM1.25 22.57H2.35V25.7H1.25ZM8.25 22.57H9.35V25.7H8.25ZM15.25 22.57H16.35V25.7H15.25ZM22.25 22.57H23.35V25.7H22.25ZM29.25 22.57H30.35V25.7H29.25ZM36.25 22.57H37.35V25.7H36.25ZM0 25.7H42.8V26.7H0ZM4.75 25.7H5.85V28.82H4.75ZM11.75 25.7H12.85V28.82H11.75ZM18.75 25.7H19.85V28.82H18.75ZM25.75 25.7H26.85V28.82H25.75ZM32.75 25.7H33.85V28.82H32.75ZM39.75 25.7H40.85V28.82H39.75ZM0 28.82H42.8V29.82H0ZM1.25 28.82H2.35V31.95H1.25ZM8.25 28.82H9.35V31.95H8.25ZM15.25 28.82H16.35V31.95H15.25ZM22.25 28.82H23.35V31.95H22.25ZM29.25 28.82H30.35V31.95H29.25ZM36.25 28.82H37.35V31.95H36.25ZM0 31.95H42.8V32.95H0ZM4.75 31.95H5.85V35.08H4.75ZM11.75 31.95H12.85V35.08H11.75ZM18.75 31.95H19.85V35.08H18.75ZM25.75 31.95H26.85V35.08H25.75ZM32.75 31.95H33.85V35.08H32.75ZM39.75 31.95H40.85V35.08H39.75ZM0 35.08H42.8V36.08H0ZM1.25 35.08H2.35V38.2H1.25ZM8.25 35.08H9.35V38.2H8.25ZM15.25 35.08H16.35V38.2H15.25ZM22.25 35.08H23.35V38.2H22.25ZM29.25 35.08H30.35V38.2H29.25ZM36.25 35.08H37.35V38.2H36.25ZM0 38.2H42.8V39.2H0ZM4.75 38.2H5.85V41.33H4.75ZM11.75 38.2H12.85V41.33H11.75ZM18.75 38.2H19.85V41.33H18.75ZM25.75 38.2H26.85V41.33H25.75ZM32.75 38.2H33.85V41.33H32.75ZM39.75 38.2H40.85V41.33H39.75ZM0 41.33H42.8V42.33H0ZM1.25 41.33H2.35V44.45H1.25ZM8.25 41.33H9.35V44.45H8.25ZM15.25 41.33H16.35V44.45H15.25ZM22.25 41.33H23.35V44.45H22.25ZM29.25 41.33H30.35V44.45H29.25ZM36.25 41.33H37.35V44.45H36.25ZM0 44.45H42.8V45.45H0ZM4.75 44.45H5.85V47.58H4.75ZM11.75 44.45H12.85V47.58H11.75ZM18.75 44.45H19.85V47.58H18.75ZM25.75 44.45H26.85V47.58H25.75ZM32.75 44.45H33.85V47.58H32.75ZM39.75 44.45H40.85V47.58H39.75ZM0 47.58H42.8V48.58H0ZM1.25 47.58H2.35V50.7H1.25ZM8.25 47.58H9.35V50.7H8.25ZM15.25 47.58H16.35V50.7H15.25ZM22.25 47.58H23.35V50.7H22.25ZM29.25 47.58H30.35V50.7H29.25ZM36.25 47.58H37.35V50.7H36.25ZM0 50.7H42.8V51.7H0ZM4.75 50.7H5.85V53.83H4.75ZM11.75 50.7H12.85V53.83H11.75ZM18.75 50.7H19.85V53.83H18.75ZM25.75 50.7H26.85V53.83H25.75ZM32.75 50.7H33.85V53.83H32.75ZM39.75 50.7H40.85V53.83H39.75ZM0 53.83H42.8V54.83H0ZM1.25 53.83H2.35V56.95H1.25ZM8.25 53.83H9.35V56.95H8.25ZM15.25 53.83H16.35V56.95H15.25ZM22.25 53.83H23.35V56.95H22.25ZM29.25 53.83H30.35V56.95H29.25ZM36.25 53.83H37.35V56.95H36.25ZM0 56.95H42.8V57.3H0ZM4.75 56.95H5.85V57.3H4.75ZM11.75 56.95H12.85V57.3H11.75ZM18.75 56.95H19.85V57.3H18.75ZM25.75 56.95H26.85V57.3H25.75ZM32.75 56.95H33.85V57.3H32.75ZM39.75 56.95H40.85V57.3H39.75Z"/><rect class="bar" width="42.80" height="57.30" fill="none"/></g>
<text transform="translate(345.50,380.32) rotate(0.03) scale(1.15,1)" font-size="13.6" text-anchor="middle">#</text>
<text transform="translate(410.10,312.00) rotate(0.03)" font-size="18.5" text-anchor="middle">*</text>
<text transform="translate(410.60,289.92) rotate(0.03) scale(1.15,1)" font-size="13.6" text-anchor="middle">#</text>
<text transform="translate(475.10,351.20) rotate(0.03)" font-size="18.5" text-anchor="middle">*</text>
<text transform="translate(468.40,339.80) rotate(0.03)" font-size="18.5" text-anchor="middle">*</text>
<text transform="translate(481.60,339.80) rotate(0.03)" font-size="18.5" text-anchor="middle">*</text>
<text transform="translate(475.70,320.52) rotate(0.03) scale(1.15,1)" font-size="13.6" text-anchor="middle">#</text>
<path class="ax" stroke-linejoin="round" d="M243 259.05H249V415.45"/>
<path class="ax" d="M243 415.45H507.8"/>
<text class="b" transform="translate(241.50,419.55) rotate(0.03) scale(1.12,1)" font-size="12" text-anchor="end">0</text>
<path class="ax" d="M243 384.17H249"/>
<text class="b" transform="translate(241.50,389.37) rotate(0.03) scale(1.12,1)" font-size="12" text-anchor="end">1</text>
<path class="ax" d="M243 352.89H249"/>
<text class="b" transform="translate(241.50,358.09) rotate(0.03) scale(1.12,1)" font-size="12" text-anchor="end">2</text>
<path class="ax" d="M243 321.61H249"/>
<text class="b" transform="translate(241.50,326.81) rotate(0.03) scale(1.12,1)" font-size="12" text-anchor="end">3</text>
<path class="ax" d="M243 290.33H249"/>
<text class="b" transform="translate(241.50,295.53) rotate(0.03) scale(1.12,1)" font-size="12" text-anchor="end">4</text>
<text class="b" transform="translate(241.50,264.25) rotate(0.03) scale(1.12,1)" font-size="12" text-anchor="end">5</text>
<path class="ax" d="M280.90 415.45V419.85"/>
<text class="b" transform="translate(269.30,429.60) rotate(0.03)" font-size="11.2" text-anchor="start" letter-spacing="0.7">B<tspan dx="0">SA</tspan></text>
<path class="ax" d="M345.70 415.45V419.85"/>
<text class="b" transform="translate(323.10,429.60) rotate(0.03)" font-size="11.2" text-anchor="start" letter-spacing="0.3">M<tspan dx="0.9">edium</tspan></text>
<path class="ax" d="M410.70 415.45V419.85"/>
<text class="b" transform="translate(388.80,429.60) rotate(0.03)" font-size="11.2" text-anchor="start" letter-spacing="0.3">C<tspan dx="0.9">ontrol</tspan></text>
<path class="ax" d="M475.10 415.45V419.85"/>
<text class="b" transform="translate(461.00,429.60) rotate(0.03)" font-size="11.2" text-anchor="start" letter-spacing="0.8">C<tspan dx="0">TX</tspan></text>
</g>
</svg></body></html>
